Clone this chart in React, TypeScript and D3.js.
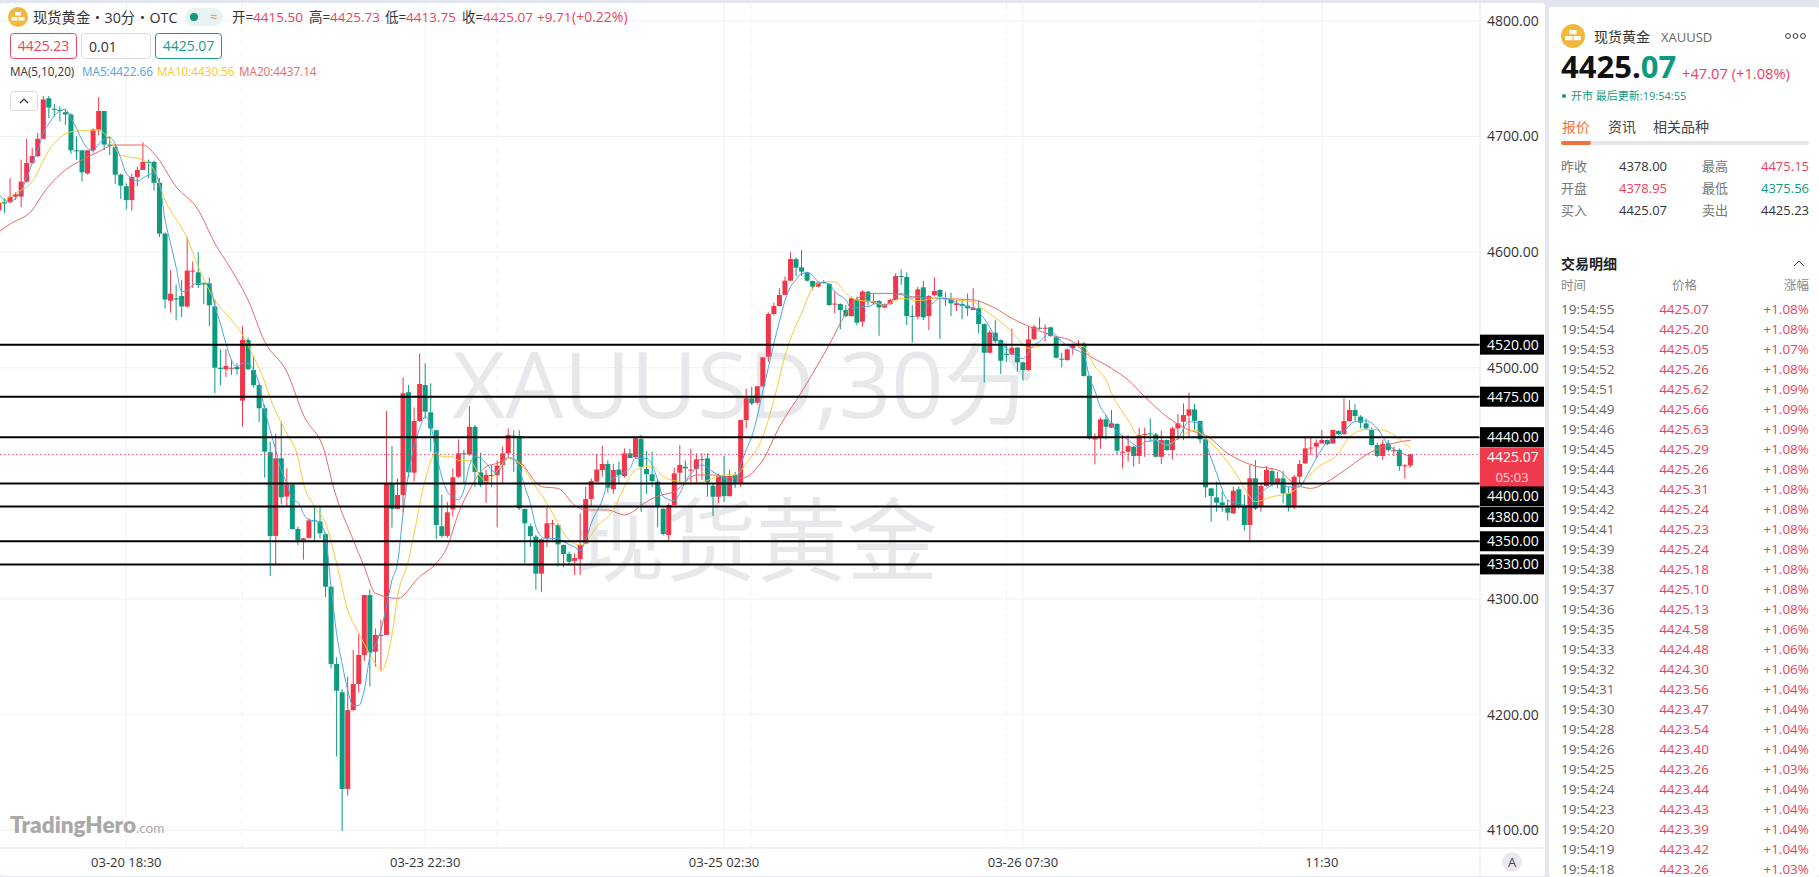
import React from 'react'
import * as d3 from 'd3'

// candle values (oldest first)
const opens = [
  4636,4643,4643,4648,4648,4661,4677,4683,4698,4733,
  4724,4723,4721,4719,4688,4688,4668,4688,4706,4722,
  4693,4691,4667,4657,4645,4665,4671,4678,4678,4660,
  4616,4558,4560,4562,4553,4584,4582.5,4573,4573,4553,
  4500,4498.6,4500,4500.7,4471.6,4524,4498,4485,4465,4427,
  4354.6,4421.7,4388.6,4399,4360.6,4351,4353,4368,4367,4356,
  4310.7,4243.9,4219.4,4135.8,4204,4226.6,4251.7,4303.5,4254.5,4269,
  4269,4399.5,4378,4390,4478.8,4409.3,4454,4485,4461.5,4446,
  4363,4354.6,4377.6,4405.8,4426,4425,4449,4409.6,4400.7,4407.3,
  4407.3,4416,4426,4441.3,4441,4378,4363,4354,4322,4352.5,
  4365.5,4364,4346.8,4339,4333,4334.7,4348,4386.5,4401.5,4411.6,
  4416.8,4395,4412,4406.4,4426,4422.6,4438.4,4412.5,4407.9,4401.5,
  4378,4355.4,4381.3,4409.3,4414.5,4412,4412.5,4420.8,4421.7,4398,
  4388.5,4406.4,4389,4407.3,4399.5,4454.8,4473.6,4469.8,4484,4509.6,
  4546.5,4553.4,4563,4575.3,4594,4586.8,4582.5,4575,4570.1,4574,
  4572.4,4555,4555.1,4549.9,4544.7,4559.2,4539.8,4565.8,4556,4557.7,
  4552.2,4555.1,4558.6,4579.3,4578.5,4544.7,4544.2,4569.5,4544.7,4562.9,
  4567.2,4560,4559.4,4554.3,4555.1,4553.7,4550,4551.4,4537.8,4513,
  4530.3,4524,4512,4511.6,4517.4,4504.7,4498,4524.9,4534.6,4534,
  4535,4526.3,4507.8,4506.7,4516.8,4520,4521,4493,4438,4439,
  4455.4,4448.2,4451.4,4427.4,4427.4,4431.8,4423.7,4442.7,4443.3,4442.4,
  4423,4437.5,4428.9,4447.6,4453.4,4458.6,4464,4454,4438.1,4395.7,
  4387.9,4383.6,4379,4374.1,4394.9,4380.5,4364,4404.4,4379.9,4397.8,
  4410.7,4399.5,4404.4,4391.4,4379.3,4405.8,4417.3,4430.3,4431.8,4434.6,
  4437.5,4434.6,4445.3,4442.7,4453.9,4463.5,4457.7,4451.9,4446.7,4433.2,
  4423.7,4434.6,4428.3,4428.9,4415,4415.5,
]
const closes = [
  4643,4642,4648,4650,4661,4677,4683,4698,4732,4725,
  4723,4722,4719,4688,4687.5,4669,4688,4706,4722,4693,
  4692,4667,4657.5,4645,4665,4671,4678,4677,4660,4616,
  4559,4564,4559,4553,4584,4584,4571.6,4572,4554,4500,
  4499,4501.5,4500,4498.7,4524,4498.7,4485,4465,4427.5,4354.6,
  4421.7,4388,4399,4360.6,4351,4352.5,4368,4367.5,4356.9,4310.7,
  4243.9,4220.8,4135.8,4204,4226.6,4251.7,4303.5,4253.7,4269,4269,
  4399.5,4378,4390,4477.9,4409.6,4454,4486,4462,4447.6,4364,
  4354.6,4375,4405.3,4426,4425.5,4449,4410,4398.6,4407.3,4407,
  4415.4,4426,4441.9,4440.7,4378.5,4365.5,4354.5,4322,4351.7,4365.5,
  4365.5,4347.3,4339,4332.3,4335.5,4346.8,4386.5,4402,4412,4416.8,
  4396.3,4411.6,4407.3,4426,4422,4439,4414.5,4408,4402,4380,
  4356.3,4381.3,4408.7,4416,4413,4412,4420.8,4421,4401,4388.5,
  4406.4,4389,4406.4,4400,4454.8,4473.6,4469.2,4484,4509,4546.5,
  4553.4,4562.9,4575.3,4594,4586.5,4583.1,4575.3,4570.1,4573.6,4573.5,
  4554.3,4555.5,4549.9,4544.7,4560,4539,4565.8,4557.1,4557.7,4552.2,
  4554.8,4558.6,4579.3,4578.8,4544.7,4544.2,4567.8,4543.6,4562,4566.4,
  4561.5,4560,4555.7,4555.7,4553.4,4551.4,4552,4537.8,4513,4530.6,
  4523.1,4506.1,4511.9,4517.4,4504.7,4498,4524.6,4535.5,4534.2,4534.6,
  4527.4,4508.7,4507,4515.9,4519.7,4521,4492.9,4439,4440.4,4455.4,
  4449,4452,4428.3,4427.4,4432.3,4423.7,4441.8,4442.7,4443,4423.1,
  4437.5,4428.9,4447.6,4451.9,4459.1,4464,4454.2,4438.1,4396.6,4389.1,
  4383.3,4381.3,4374.7,4393.7,4379.9,4364,4404.4,4378.4,4397.8,4411.6,
  4400,4404.4,4391.4,4379.3,4405.8,4416.8,4430.3,4431,4435.2,4437.5,
  4434,4446.2,4442.7,4453.9,4463.5,4458.3,4452.5,4447.6,4433.2,4423.7,
  4434,4428.9,4428.7,4415,4415.5,4425.07,
]
const highs = [
  4644,4646.5,4664,4652,4680,4698,4690,4703,4735,4735,
  4728,4726,4723.5,4720,4700,4688,4688,4707,4734,4722,
  4700,4693,4668,4659.5,4668,4674,4695,4680,4679,4664,
  4617,4584.5,4572,4576,4613,4592,4600,4574,4578,4559,
  4516,4516,4507,4504,4536,4526,4510,4486.5,4468,4436,
  4443,4453.4,4413,4400,4362.6,4353,4370,4381,4380,4357,
  4311,4249.6,4222,4233,4256,4270,4303.5,4308.4,4274.7,4282,
  4462.6,4432.4,4404.4,4491.7,4485,4465.8,4512.5,4503.8,4486.5,4446,
  4390,4384,4413,4438,4429,4467,4450.5,4426.6,4411.6,4416,
  4419.7,4431.8,4447.6,4446,4446,4378,4365,4355.4,4352.5,4379,
  4368.4,4365.5,4347,4341,4339.6,4374,4397,4404.4,4425,4432.6,
  4420,4417,4418.8,4430.3,4430,4440.4,4442,4428,4427.4,4403,
  4378.5,4382.8,4413.6,4433,4420,4430,4426,4426,4426,4400,
  4408.7,4423.7,4411.6,4410,4454.8,4482,4483.6,4484,4509,4548,
  4556.3,4568.7,4578.8,4599.8,4595.5,4601.8,4583,4575.3,4574.4,4575.9,
  4573,4565.8,4555.7,4554.2,4561.5,4561.5,4567.2,4566.4,4564.3,4558.6,
  4555.7,4560,4581.6,4585,4582.5,4554.3,4570,4575.3,4563,4578.2,
  4567.8,4565.2,4564.9,4558.6,4559.2,4564.3,4568.7,4558,4538.4,4532.6,
  4541.3,4524.6,4521,4534,4518,4505.3,4535.5,4537,4543.6,4537.5,
  4535.5,4527.4,4513,4516.8,4521,4524,4522.5,4493.5,4443.3,4457,
  4459,4463.5,4452,4441.8,4441.8,4432.6,4448.2,4448.2,4456.2,4443.9,
  4445.6,4438,4449,4460,4469.2,4478.7,4468.6,4454,4438.1,4396.3,
  4401.5,4392.9,4385.6,4397.2,4397.2,4390,4415.9,4420.2,4400,4415,
  4413,4410,4411,4397.2,4407.3,4420.2,4439.5,4439.8,4438,4446.2,
  4438,4446.7,4446,4473.6,4472.1,4468.6,4459,4456.3,4448.5,4435,
  4437.5,4437.5,4431.8,4430.3,4416.8,4425.73,
]
const lows = [
  4635,4634,4642,4645,4639,4660,4676,4682,4698,4716,
  4717,4713,4710,4685,4680,4661,4667,4686,4701,4688,
  4684,4659,4646,4637,4636,4657,4671,4664,4653,4613,
  4551,4547.6,4541,4544,4552,4569,4569,4555,4536,4478,
  4485,4492,4494,4494,4449,4498,4483,4453,4405,4320,
  4330,4382,4380,4360,4346.8,4334,4352,4349.6,4352.5,4302,
  4240,4163.8,4099.5,4130,4203.5,4219,4246.5,4224.3,4241.6,4238.7,
  4269,4361.8,4378,4374.7,4405,4402,4453,4456,4427.5,4351.7,
  4353,4353,4371.3,4404.4,4400,4424,4397,4397,4383,4396.6,
  4362,4400,4423,4410,4377,4331,4345,4308,4306,4345,
  4351,4328,4327.5,4329,4320.8,4320.8,4347.6,4380,4400,4406,
  4392,4391,4400,4405,4421.7,4421.7,4375.6,4390.9,4397,4362,
  4355,4349.6,4380.8,4400,4398.6,4398.6,4400,4403,4388.5,4372,
  4383,4384,4388.5,4395.8,4397,4447.6,4467.8,4469,4483.6,4505,
  4545.6,4552.8,4563,4575,4579.3,4579.3,4574.4,4567.2,4569.5,4573,
  4553.4,4547,4533.2,4543.6,4544.2,4537,4535.5,4554,4555.1,4527.7,
  4551.4,4554,4558,4571.5,4537,4521.7,4541.9,4541.3,4532.6,4562,
  4524.9,4553.4,4544.7,4549,4541.9,4544.7,4550,4529.8,4487.1,4512.5,
  4521.1,4494.6,4505,4511,4496.6,4488.8,4497.5,4524,4533,4522.6,
  4526.9,4508,4500.4,4506,4511.3,4519,4492.3,4438,4416.5,4430,
  4438,4448,4425.4,4413,4418.8,4414.5,4416.8,4423,4436,4422.5,
  4416.8,4428.3,4420.8,4437.5,4437.5,4440.4,4446.2,4434.6,4388,4366.9,
  4375.6,4375.6,4367.8,4373.5,4378.4,4359,4351,4377,4375.6,4397.2,
  4397.2,4395.7,4382.8,4375.6,4377.6,4400,4416.8,4424.6,4421.7,4434.6,
  4433.2,4434,4441.8,4441.8,4453.4,4453.4,4447.6,4446.2,4432.6,4422.5,
  4420.2,4427.4,4423.7,4411,4404.1,4413.75,
]

// moving averages: [candle index, price]
const ma5 = [
  [0,4650],[1,4645],[2,4643.6],[3,4646.5],[4,4653],[5,4664],[6,4677],[7,4688],[8,4703],[9,4711],[10,4718],[11,4722],[12,4723.5],[13,4715.7],[14,4707],[15,4697],[16,4689.7],[17,4687.7],[18,4693.5],[19,4697.5],[20,4699.3],[21,4693.5],[22,4681],[23,4668],[24,4664],[25,4661.5],[26,4664],[27,4666.7],[28,4668.7],[29,4659.5],[30,4628],[31,4607.6],[32,4587],[33,4565.8],[34,4566.7],[35,4571.6],[36,4573],[38,4573],[39,4553],[40,4538.4],[41,4521],[42,4506.7],[43,4501],[44,4503.8],[45,4503.8],[46,4498],[47,4486.5],[48,4463.5],[49,4446],[50,4429],[51,4411.6],[52,4400],[53,4385.7],[54,4383.7],[55,4374],[56,4368.4],[57,4367.8],[58,4365.5],[59,4354],[60,4310.7],[61,4270],[62,4244],[63,4221.4],[64,4207.6],[65,4207.9],[66,4221.4],[67,4250],[68,4260],[69,4273],[70,4293.5],[71,4316.5],[72,4331],[73,4374],[74,4408.7],[75,4431.8],[76,4447.6],[77,4457.7],[78,4450.5],[79,4426],[80,4405.8],[81,4392.9],[82,4388.6],[83,4385.7],[84,4394.3],[85,4415.9],[86,4423],[87,4421.7],[88,4417.4],[89,4411.6],[90,4408.7],[91,4416],[92,4422.6],[93,4421],[94,4413],[95,4397],[96,4382.8],[97,4362.6],[98,4354],[99,4352],[101,4352.5],[102,4349.6],[104,4345],[105,4342],[106,4351],[107,4365.5],[109,4385.7],[110,4400],[112,4407.3],[114,4413],[115,4421.7],[117,4421.7],[118,4416],[119,4403],[120,4388.5],[122,4385],[123,4391.4],[124,4401.5],[126,4413],[127,4416],[129,4410],[130,4407.3],[132,4401.5],[133,4398.6],[134,4416],[135,4429],[136,4440.4],[137,4458],[138,4480],[139,4500],[140,4521],[141,4540],[142,4558],[143,4570],[144,4576],[145,4581.6],[146,4582],[147,4580],[148,4574.4],[150,4572.4],[151,4565.8],[153,4558.6],[154,4551.4],[156,4552.8],[157,4553],[159,4556.3],[160,4554],[162,4561.5],[163,4564.3],[165,4560],[166,4562.9],[168,4554],[170,4560],[171,4560],[174,4554],[176,4551.4],[178,4542.7],[180,4526.9],[182,4516.8],[185,4508],[187,4519.7],[188,4522.5],[190,4531.2],[192,4522.6],[194,4516.8],[196,4511],[197,4492],[198,4480],[199,4466],[200,4459],[201,4451],[204,4437.5],[206,4431.8],[207,4436],[209,4437],[211,4433],[213,4439],[215,4453.4],[217,4452],[218,4436],[220,4408.7],[222,4385.6],[224,4382.8],[226,4379.9],[227,4387],[229,4395.7],[231,4400],[233,4397],[235,4397],[236,4404.4],[238,4421.7],[240,4436],[242,4440.4],[245,4453.4],[247,4454.2],[249,4447.6],[251,4433.2],[253,4427.4],[255,4422.66],
]
const ma10 = [
  [0,4642],[3,4651],[6,4661],[9,4688],[13,4704],[15,4705],[18,4705.6],[20,4697],[22,4684],[26,4679.7],[28,4671],[30,4645],[34,4612],[36,4587.4],[39,4558.6],[42,4541.3],[44,4528.3],[46,4509.6],[48,4488],[49,4473.6],[52,4443.3],[54,4423],[55,4400],[57,4380],[59,4365.5],[61,4331],[63,4290.6],[65,4270.4],[68,4244.5],[69,4237.8],[71,4269],[72,4302],[74,4333.8],[75,4356.9],[77,4403],[79,4426.6],[80,4423],[82,4423],[83,4419.7],[85,4419.7],[87,4405.8],[88,4401.5],[90,4411],[92,4421.7],[94,4417.4],[97,4397],[99,4382.8],[101,4365.5],[103,4351],[105,4346.8],[106,4348.8],[108,4362.6],[111,4377],[113,4397.2],[115,4411.6],[118,4415],[120,4405.8],[123,4401.5],[126,4400],[129,4404.4],[131,4407.3],[133,4407.3],[135,4417.4],[138,4440.4],[140,4472],[142,4510],[143,4525],[145,4547],[147,4568.7],[149,4574.4],[151,4574.4],[153,4564.3],[155,4558.6],[158,4557],[160,4554],[163,4560],[166,4558],[170,4560.6],[173,4558.6],[176,4557],[178,4550],[182,4535.5],[184,4525.4],[186,4516.8],[188,4518.8],[191,4519.7],[194,4519.7],[196,4518.2],[198,4500.9],[200,4489.4],[201,4477.9],[204,4454.8],[206,4440.4],[208,4440],[211,4433.2],[213,4439],[216,4446.2],[218,4439],[221,4424.6],[224,4404.4],[226,4388.5],[227,4384.2],[230,4388.5],[233,4391.4],[235,4397.8],[238,4413],[242,4426],[244,4440.4],[247,4446.7],[250,4446.2],[252,4441.8],[255,4430.56],
]
const ma20 = [
  [0,4617.7],[2,4624.3],[6,4636.4],[8,4650.8],[12,4671],[15,4679.7],[18,4686.9],[21,4692.6],[26,4692.6],[28,4685.4],[32,4656.6],[36,4636.4],[39,4607.6],[42,4584.6],[45,4558.6],[48,4522.6],[52,4496.6],[55,4459.2],[59,4424.6],[60,4404.4],[64,4351],[66,4328],[68,4305],[72,4300.6],[76,4319.4],[79,4331],[81,4345.3],[83,4374],[85,4394.3],[88,4414.5],[90,4417.4],[92,4421.7],[94,4418.8],[98,4397.2],[101,4395.7],[104,4381.3],[106,4377],[110,4377],[113,4372.7],[117,4384.2],[119,4389],[122,4392.9],[126,4407.3],[129,4407.3],[134,4404.4],[138,4420.2],[141,4449],[145,4479],[147,4495],[150,4520],[153,4547],[155,4560],[158,4564.3],[161,4564.3],[165,4561.5],[170,4560],[176,4558.6],[180,4551.4],[183,4542.7],[186,4536],[190,4528.3],[194,4522.6],[196,4513.9],[201,4499.5],[204,4489.4],[207,4475],[211,4457.7],[215,4446.2],[218,4441.8],[222,4426],[227,4415],[231,4411.6],[234,4400],[237,4395.7],[240,4401.5],[244,4414.5],[247,4424.6],[251,4433.2],[254,4436.7],[255,4437.14],
]

const priceTicks = [4800, 4700, 4600, 4500, 4400, 4300, 4200, 4100]
const levels = [4520, 4475, 4440, 4400, 4380, 4350, 4330]
const lastPrice = 4425.07
const timeLabels = ['03-20 18:30', '03-23 22:30', '03-25 02:30', '03-26 07:30', '11:30']
const timeTickIndex = [23, 77, 131, 185, 239]
const sepIndex = [44, 90, 136, 182, 228]

const statRows = [
  ['昨收', '4378.00', '#333', '最高', '4475.15', '#ee3f5c'],
  ['开盘', '4378.95', '#ee3f5c', '最低', '4375.56', '#129a7f'],
  ['买入', '4425.07', '#333', '卖出', '4425.23', '#333'],
]
const tradeTimes = ['19:54:55','19:54:54','19:54:53','19:54:52','19:54:51','19:54:49','19:54:46','19:54:45','19:54:44','19:54:43','19:54:42','19:54:41','19:54:39','19:54:38','19:54:37','19:54:36','19:54:35','19:54:33','19:54:32','19:54:31','19:54:30','19:54:28','19:54:26','19:54:25','19:54:24','19:54:23','19:54:20','19:54:19','19:54:18']
const tradePrices = ['4425.07','4425.20','4425.05','4425.26','4425.62','4425.66','4425.63','4425.29','4425.26','4425.31','4425.24','4425.23','4425.24','4425.18','4425.10','4425.13','4424.58','4424.48','4424.30','4423.56','4423.47','4423.54','4423.40','4423.26','4423.44','4423.43','4423.39','4423.42','4423.26']
const tradeChanges = ['+1.08%','+1.08%','+1.07%','+1.08%','+1.09%','+1.09%','+1.09%','+1.08%','+1.08%','+1.08%','+1.08%','+1.08%','+1.08%','+1.08%','+1.08%','+1.08%','+1.06%','+1.06%','+1.06%','+1.04%','+1.04%','+1.04%','+1.04%','+1.03%','+1.04%','+1.04%','+1.04%','+1.04%','+1.03%']

const UP = '#f0364a'
const DOWN = '#0c9b7e'
const TEXT_RED = '#ee3f5c'
const FONT = '"Open Sans", "Noto Sans CJK SC", sans-serif'

const PLOT_RIGHT = 1480
const AXIS_BOTTOM = 848

const x = d3.scaleLinear().domain([0, 255]).range([-1, 1410.4])
const y = d3.scaleLinear().domain([4100, 4800]).range([830.4, 20.8])

const maLine = d3.line<number[]>()
  .x(d => x(d[0]))
  .y(d => y(d[1]))
  .curve(d3.curveMonotoneX)

// the 4400 and 4380 tags get pushed down by the countdown box
const tagShift = (p: number) => (p === 4400 ? 13 : p === 4380 ? 10.5 : 0)

const GoldIcon = ({ cx, cy, r }: { cx: number; cy: number; r: number }) => {
  const s = r / 10
  return (
    <g transform={`translate(${cx},${cy}) scale(${s})`}>
      <circle r={10} fill="#f2b83c" />
      <rect x={-3} y={-5} width={6} height={3.5} fill="#fff" />
      <rect x={-6.5} y={0} width={6} height={3.5} fill="#fff" />
      <rect x={0.5} y={0} width={6} height={3.5} fill="#fff" />
    </g>
  )
}

export default function App() {
  return (
    <svg width={1819} height={877} style={{ position: 'absolute', left: 0, top: 0 }} fontFamily={FONT}>
      <style>{'body{margin:0;overflow:hidden}'}</style>
      <rect width={1819} height={877} fill="#e3e6ee" />
      <rect x={0} y={3} width={1545} height={873} rx={3} fill="#fff" />
      <rect x={1549} y={7} width={270} height={870} rx={3} fill="#fff" />

      {/* grid */}
      {priceTicks.map(p => (
        <line key={p} x1={0} x2={PLOT_RIGHT} y1={y(p)} y2={y(p)} stroke="#f0f1f3" />
      ))}
      {timeTickIndex.map(i => (
        <line key={i} x1={x(i)} x2={x(i)} y1={3} y2={AXIS_BOTTOM} stroke="#f0f1f3" />
      ))}
      {sepIndex.map(i => (
        <line key={i} x1={x(i)} x2={x(i)} y1={3} y2={AXIS_BOTTOM} stroke="#f0f1f3" strokeDasharray="6 6" />
      ))}

      {/* watermarks */}
      <text x={744} y={418} textAnchor="middle" fontSize={92} fill="#e7e8eb">XAUUSD,30分</text>
      <text x={756} y={574} textAnchor="middle" fontSize={91} fill="#e7e8eb">现货黄金</text>
      <text x={10} y={833} fontSize={22.5} fontWeight={800} fill="#a9a9a9" fontFamily='"Lato", sans-serif'>TradingHero<tspan fontSize={13.5} fontWeight={400}>.com</tspan></text>

      {/* candles */}
      <g>
        {opens.map((o, i) => {
          const c = closes[i]
          const col = c >= o ? UP : DOWN
          const top = y(Math.max(o, c))
          const h = Math.max(1, y(Math.min(o, c)) - top)
          return (
            <g key={i}>
              <line x1={x(i)} x2={x(i)} y1={y(highs[i])} y2={y(lows[i])} stroke={col} />
              <rect x={x(i) - 2.5} y={top} width={5} height={h} fill={col} />
            </g>
          )
        })}
      </g>

      {/* ma lines */}
      <path d={maLine(ma20 as number[][]) || ''} fill="none" stroke="#e96a66" strokeWidth={1} />
      <path d={maLine(ma10 as number[][]) || ''} fill="none" stroke="#f8cb35" strokeWidth={1} />
      <path d={maLine(ma5 as number[][]) || ''} fill="none" stroke="#4ea5e4" strokeWidth={1} />

      {/* drawn levels */}
      <line x1={0} x2={PLOT_RIGHT} y1={y(lastPrice)} y2={y(lastPrice)} stroke="#e0506a" strokeDasharray="1.5 2.5" />
      {levels.map(p => (
        <line key={p} x1={0} x2={PLOT_RIGHT} y1={y(p)} y2={y(p)} stroke="#000" strokeWidth={2} />
      ))}

      {/* price axis */}
      <line x1={PLOT_RIGHT} x2={PLOT_RIGHT} y1={3} y2={876} stroke="#e6e7ea" />
      {priceTicks.map(p => (
        p === 4400 ? null : <text key={p} x={1487} y={y(p) + 5} fontSize={14} fill="#333">{d3.format('.2f')(p)}</text>
      ))}
      <rect x={PLOT_RIGHT} y={y(lastPrice) - 7} width={64} height={40} fill="#ee3a4c" />
      <text x={1487} y={y(lastPrice) + 8} fontSize={14} fill="#fff">{d3.format('.2f')(lastPrice)}</text>
      <text x={1512} y={y(lastPrice) + 28} fontSize={13} textAnchor="middle" fill="#ffd7dc">05:03</text>
      {levels.map(p => (
        <g key={p}>
          <rect x={PLOT_RIGHT} y={y(p) + tagShift(p) - 10} width={64} height={20} fill="#000" />
          <text x={1487} y={y(p) + tagShift(p) + 5} fontSize={14} fill="#fff">{d3.format('.2f')(p)}</text>
        </g>
      ))}

      {/* time axis */}
      <line x1={0} x2={PLOT_RIGHT + 65} y1={AXIS_BOTTOM} y2={AXIS_BOTTOM} stroke="#e3e4e8" />
      {timeLabels.map((t, k) => (
        <text key={t} x={x(timeTickIndex[k])} y={867} fontSize={13} textAnchor="middle" fill="#333">{t}</text>
      ))}
      <circle cx={1512} cy={862} r={10} fill="#e8e9f0" />
      <text x={1512} y={867} fontSize={13} textAnchor="middle" fill="#444">A</text>

      {/* chart header */}
      <GoldIcon cx={18} cy={17} r={10} />
      <text x={33} y={23} fontSize={14.3} fill="#333">现货黄金・30分・OTC</text>
      <rect x={185} y={8} width={38} height={18} rx={9} fill="#e6f3f2" />
      <circle cx={194} cy={17} r={4} fill="#0c9b7e" />
      <text x={214} y={21} fontSize={12} textAnchor="middle" fill="#f47d4a">≈</text>
      <g fontSize={13.5}>
        <text x={232} y={22} fill="#333">开=</text>
        <text x={253} y={22} fill={TEXT_RED}>4415.50</text>
        <text x={309} y={22} fill="#333">高=</text>
        <text x={330} y={22} fill={TEXT_RED}>4425.73</text>
        <text x={385} y={22} fill="#333">低=</text>
        <text x={406} y={22} fill={TEXT_RED}>4413.75</text>
        <text x={462} y={22} fill="#333">收=</text>
        <text x={483} y={22} fill={TEXT_RED}>4425.07</text>
        <text x={537} y={22} fill={TEXT_RED}>+9.71</text>
        <text x={572} y={22} fontSize={14} fill={TEXT_RED}>(+0.22%)</text>
      </g>
      <rect x={10.5} y={33.5} width={66} height={25} rx={3} fill="#fff" stroke="#e2485f" />
      <text x={43.5} y={51} fontSize={14} textAnchor="middle" fill={TEXT_RED}>4425.23</text>
      <rect x={81.5} y={33.5} width={69} height={25} rx={3} fill="#fff" stroke="#ddd" />
      <text x={89} y={52} fontSize={14} fill="#333">0.01</text>
      <rect x={155.5} y={33.5} width={66} height={25} rx={3} fill="#fff" stroke="#1a9c85" />
      <text x={188.5} y={51} fontSize={14} textAnchor="middle" fill="#1a9c85">4425.07</text>
      <g fontSize={11.7}>
        <text x={10} y={76} fill="#333">MA(5,10,20)</text>
        <text x={82} y={76} fill="#4ea5e4">MA5:4422.66</text>
        <text x={157} y={76} fill="#f8c92e">MA10:4430.56</text>
        <text x={239} y={76} fill="#e96a66">MA20:4437.14</text>
      </g>
      <rect x={10.5} y={91.5} width={27} height={19} rx={3} fill="#fff" stroke="#ddd" />
      <path d="M20 103 L24 99 L28 103" fill="none" stroke="#333" strokeWidth={1.2} />

      {/* right panel */}
      <GoldIcon cx={1573} cy={36} r={12} />
      <text x={1594} y={42} fontSize={14} fill="#333">现货黄金</text>
      <text x={1661} y={42} fontSize={13} fill="#666">XAUUSD</text>
      {[1788, 1795.5, 1803].map(cx => (
        <circle key={cx} cx={cx} cy={36} r={2.4} fill="none" stroke="#333" />
      ))}
      <text x={1561} y={78} fontSize={31} fontWeight={700} fill="#111">4425.<tspan fill="#0c9b7e">07</tspan></text>
      <text x={1682} y={79} fontSize={14.7} fill={TEXT_RED}>+47.07 (+1.08%)</text>
      <circle cx={1564} cy={96} r={2} fill="#129a7f" />
      <text x={1571} y={100} fontSize={11} fill="#129a7f">开市 最后更新:19:54:55</text>
      <text x={1562} y={132} fontSize={14} fill="#f2703e">报价</text>
      <text x={1608} y={132} fontSize={14} fill="#444">资讯</text>
      <text x={1653} y={132} fontSize={14} fill="#444">相关品种</text>
      <rect x={1561} y={141} width={248} height={4} rx={2} fill="#e6e6e8" />
      <rect x={1561} y={141} width={30} height={4} rx={2} fill="#f2703e" />
      {statRows.map((r, k) => {
        const base = 171 + k * 22
        return (
          <g key={k} fontSize={13}>
            <text x={1561} y={base} fill="#777">{r[0]}</text>
            <text x={1619} y={base} fill={r[2]}>{r[1]}</text>
            <text x={1702} y={base} fill="#777">{r[3]}</text>
            <text x={1809} y={base} textAnchor="end" fill={r[5]}>{r[4]}</text>
          </g>
        )
      })}
      <text x={1561} y={269} fontSize={14} fontWeight={700} fill="#222">交易明细</text>
      <path d="M1794 266 L1799 261 L1804 266" fill="none" stroke="#555" />
      <g fontSize={12.5} fill="#888">
        <text x={1561} y={290}>时间</text>
        <text x={1697} y={290} textAnchor="end">价格</text>
        <text x={1809} y={290} textAnchor="end">涨幅</text>
      </g>
      {tradeTimes.map((t, k) => {
        const base = 314 + k * 20
        return (
          <g key={t} fontSize={13.5}>
            <text x={1561} y={base} fill="#666">{t}</text>
            <text x={1709} y={base} textAnchor="end" fill={TEXT_RED}>{tradePrices[k]}</text>
            <text x={1809} y={base} textAnchor="end" fill={TEXT_RED}>{tradeChanges[k]}</text>
          </g>
        )
      })}
    </svg>
  )
}
